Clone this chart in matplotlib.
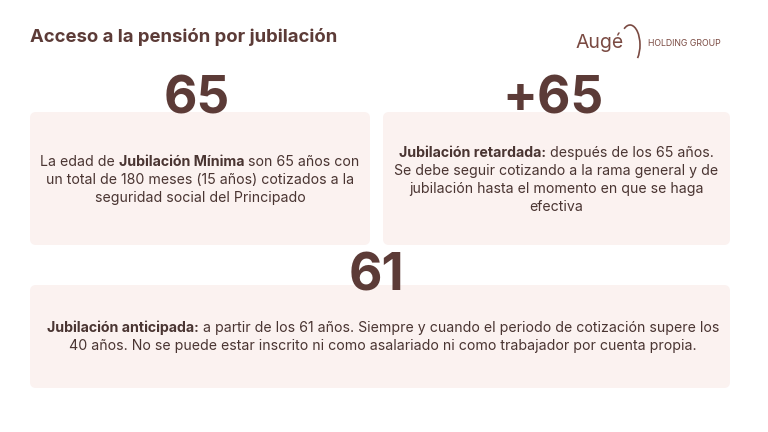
import matplotlib
matplotlib.use("Agg")
import matplotlib.pyplot as plt
from matplotlib.patches import FancyBboxPatch, Arc

title = "Acceso a la pensión por jubilación"
big_numbers = ["65", "+65", "61"]
box1_lines = [[("La edad de ", False), ("Jubilación Mínima", True), (" son 65 años con", False)],
              [("un total de 180 meses (15 años) cotizados a la", False)],
              [("seguridad social del Principado", False)]]
box2_lines = [[("Jubilación retardada:", True), (" después de los 65 años.", False)],
              [("Se debe seguir cotizando a la rama general y de", False)],
              [("jubilación hasta el momento en que se haga", False)],
              [("efectiva", False)]]
box3_lines = [[("Jubilación anticipada:", True), (" a partir de los 61 años. Siempre y cuando el periodo de cotización supere los", False)],
              [("40 años. No se puede estar inscrito ni como asalariado ni como trabajador por cuenta propia.", False)]]

BROWN = "#5c3b37"
TXT = "#4a3532"
BOX = "#fbf2f0"
FONT = "Inter"
FS = 10.2

fig = plt.figure(figsize=(7.68, 4.32), dpi=100)
ax = fig.add_axes([0, 0, 1, 1])
ax.set_xlim(0, 768); ax.set_ylim(432, 0); ax.axis("off")
fig.patch.set_facecolor("white")

for (x0, y0, x1, y1) in [(30, 112, 370, 245), (383, 112, 730, 245), (30, 285, 730, 388)]:
    ax.add_patch(FancyBboxPatch((x0, y0), x1 - x0, y1 - y0, boxstyle="round,pad=0,rounding_size=6",
                                fc=BOX, ec="none"))

ax.text(30, 37, title, fontsize=13.3, fontweight="bold", color=BROWN, family=FONT, va="center")
for s, x, y in zip(big_numbers, [197, 553, 376], [100, 100, 277]):
    ax.text(x, y, s, fontsize=37, fontweight="bold", color=BROWN, family=FONT, ha="center", va="center")

# logo
ax.text(576, 42, "Augé", fontsize=14, color="#7a4a42", family=FONT, va="center")
ax.text(648, 43, "HOLDING GROUP", fontsize=6.3, color="#7a4a42", family=FONT, va="center")
ax.add_patch(Arc((630, 45), 20, 40, theta1=-110, theta2=60, color="#7a4a42", lw=1.2))

fig.canvas.draw()
r = fig.canvas.get_renderer()

def width(seg, bold):
    t = ax.text(0, 0, seg, fontsize=FS, family=FONT, fontweight="bold" if bold else "normal")
    w = t.get_window_extent(r).width
    t.remove()
    return w

def draw_lines(lines, cx, y0, dy=18):
    for i, line in enumerate(lines):
        ws = [width(s, b) for s, b in line]
        x = cx - sum(ws) / 2
        for (s, b), w in zip(line, ws):
            ax.text(x, y0 + i * dy, s, fontsize=FS, family=FONT, color=TXT,
                    fontweight="bold" if b else "normal", va="center")
            x += w

draw_lines(box1_lines, 200, 162)
draw_lines(box2_lines, 556, 153)
draw_lines(box3_lines, 383, 328)

fig.savefig("out.png", dpi=100, facecolor="white")
